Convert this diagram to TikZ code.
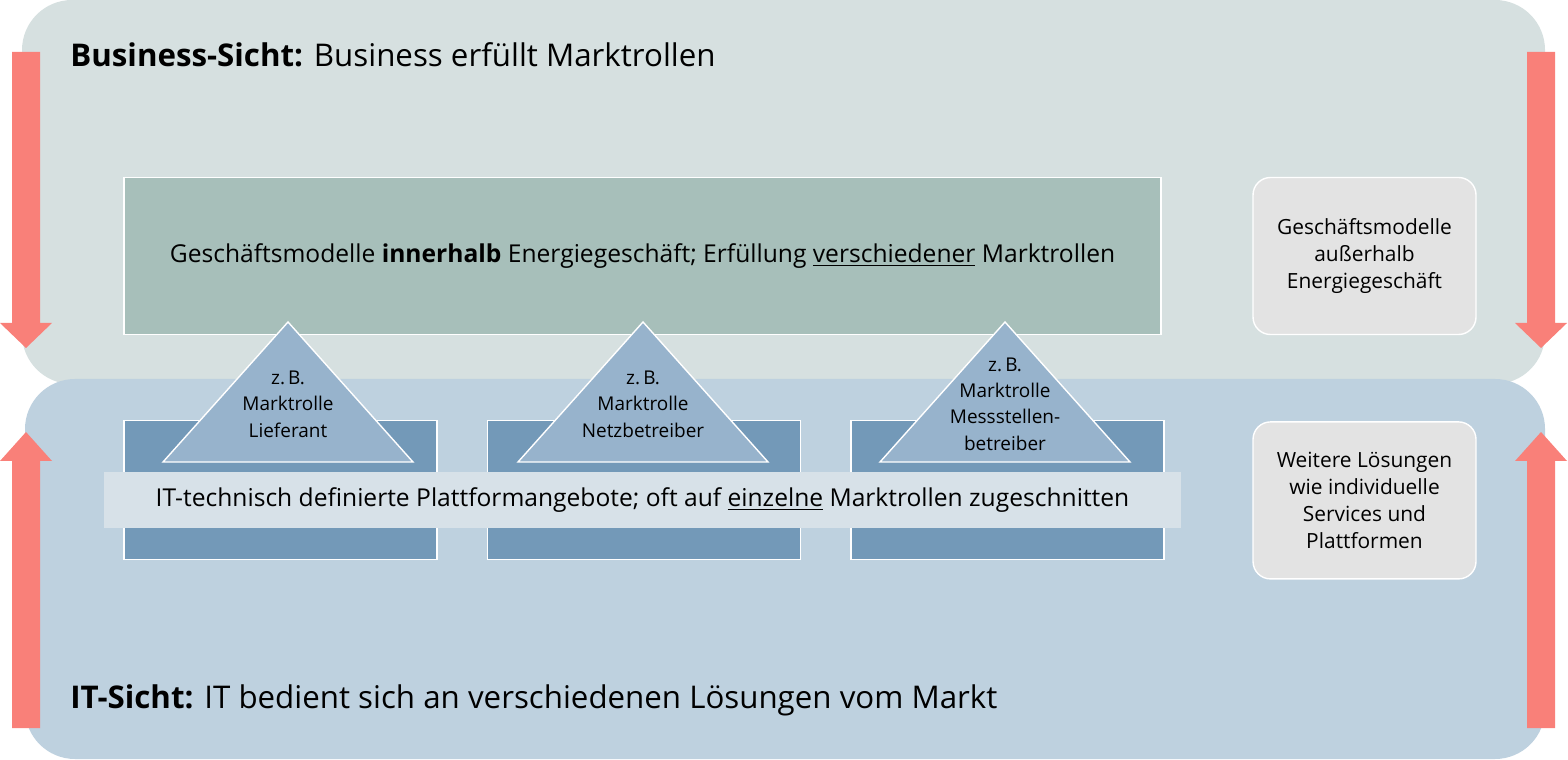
\documentclass[tikz,border=0pt]{standalone}
\usepackage{fontspec}
\setmainfont{Open Sans}
\usetikzlibrary{positioning}
\definecolor{panelbiz}{HTML}{D6E0E0}
\definecolor{panelit}{HTML}{BED1DF}
\definecolor{gruen}{HTML}{A7BFBA}
\definecolor{blau}{HTML}{7399B8}
\definecolor{dreieck}{HTML}{97B3CC}
\definecolor{band}{HTML}{D7E1E8}
\definecolor{grau}{HTML}{E3E3E3}
\definecolor{pfeil}{HTML}{F98079}
\tikzset{
    panel/.style={
        rounded corners=1cm,
        draw=none
        },
    box/.style={
        rectangle,
        draw=white,
        line width=0.8pt,
        text centered,
        inner sep=0pt
        },
    gbox/.style={ % graue Seitenboxen
        box,
        fill=grau,
        rounded corners=0.35cm,
        minimum width=4.46cm,
        minimum height=3.14cm,
        font=\fontsize{11.9}{15.3}\selectfont,
        align=center
        },
    bbox/.style={ % blaue Plattformboxen
        box,
        fill=blau,
        minimum width=6.26cm,
        minimum height=2.78cm
        },
    tri/.style={
        draw=white,
        line width=0.8pt,
        fill=dreieck
        },
    tritext/.style={
        font=\fontsize{10.8}{15}\selectfont,
        align=center
        },
    pfeilform/.style={
        fill=pfeil,
        draw=none
        }
}
\begin{document}
\begin{tikzpicture}
\useasboundingbox (0,0) rectangle (31.36,15.18);

%%%%% Panels
\fill[panelbiz, panel] (0.44,7.5) rectangle (30.9,15.18);
\fill[panelit, panel] (0.5,0) rectangle (30.9,7.6);

%%%%% Titel
\node[anchor=west, font=\fontsize{17.8}{20}\selectfont, inner sep=0pt] (tbiz) at (1.4,14.08)
    {\textbf{Business-Sicht:} Business erfüllt Marktrollen};
\node[anchor=west, font=\fontsize{17.8}{20}\selectfont, inner sep=0pt] (tit) at (1.4,1.18)
    {\textbf{IT-Sicht:} IT bedient sich an verschiedenen Lösungen vom Markt};

%%%%% Pfeile
\foreach \x in {0.52,30.82}{
  \fill[pfeilform] (\x-0.28,14.14) -- (\x+0.28,14.14) -- (\x+0.28,8.72)
     -- (\x+0.52,8.72) -- (\x,8.22) -- (\x-0.52,8.72) -- (\x-0.28,8.72) -- cycle;
  \fill[pfeilform] (\x-0.28,0.62) -- (\x+0.28,0.62) -- (\x+0.28,5.96)
     -- (\x+0.52,5.96) -- (\x,6.54) -- (\x-0.52,5.96) -- (\x-0.28,5.96) -- cycle;
}

%%%%% Geschaeftsmodelle innerhalb
\node[box, fill=gruen, minimum width=20.74cm, minimum height=3.14cm,
      font=\fontsize{14}{17}\selectfont] (gm) at (12.85,10.06)
    {\raisebox{-3pt}{Geschäftsmodelle \textbf{innerhalb} Energiegeschäft; Erfüllung \underline{verschiedener} Marktrollen}};

%%%%% graue Boxen
\node[gbox] (aus) at (27.29,10.06) {Geschäftsmodelle\\außerhalb\\Energiegeschäft};
\node[gbox, below=1.72cm of aus] (weitere) {Weitere Lösungen\\wie individuelle\\Services und\\Plattformen};

%%%%% Plattformboxen
\node[bbox] (p1) at (5.61,5.38) {};
\node[bbox, right=0.98cm of p1] (p2) {};
\node[bbox, right=0.98cm of p2] (p3) {};

%%%%% Dreiecke
\foreach \n/\x/\t in {d1/5.76/{z.\,B.\\Marktrolle\\Lieferant},
                      d2/12.86/{z.\,B.\\Marktrolle\\Netzbetreiber},
                      d3/20.10/{z.\,B.\\Marktrolle\\Messstellen-\\betreiber}}{
  \draw[tri] (\x,8.74) -- (\x+2.5,5.94) -- (\x-2.5,5.94) -- cycle;
  \node[tritext] (\n) at (\x,7.1) {\t};
}

%%%%% Band
\node[box, draw=none, fill=band, minimum width=21.54cm, minimum height=1.12cm,
      font=\fontsize{14}{17}\selectfont] (band) at (12.85,5.18)
    {IT-technisch definierte Plattformangebote; oft auf \underline{einzelne} Marktrollen zugeschnitten};

\end{tikzpicture}
\end{document}
